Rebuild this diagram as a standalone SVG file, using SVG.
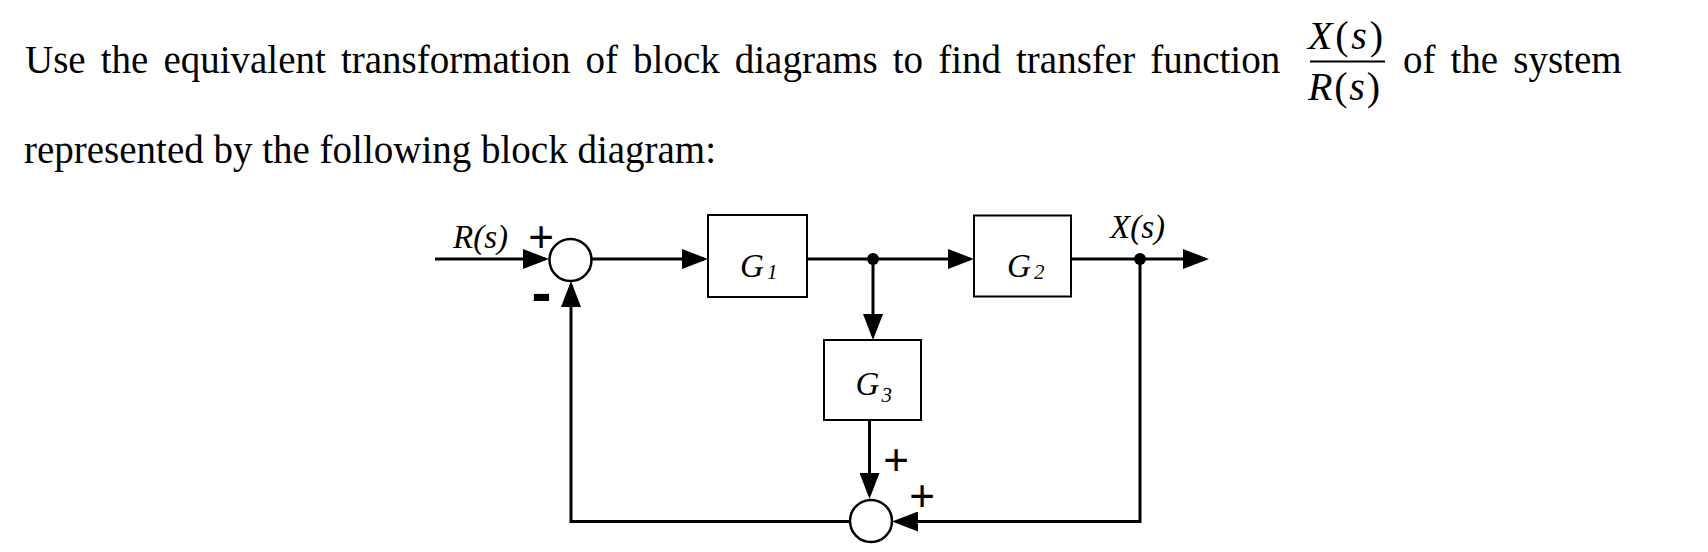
<svg xmlns="http://www.w3.org/2000/svg" width="1708" height="552" viewBox="0 0 1708 552">
<style>
.t{font-family:"Liberation Serif","Times New Roman",serif;fill:#000}
.hd{font-size:39px}
.i{font-style:italic}
.n{font-style:normal}
.blk{fill:#fff;stroke:#000;stroke-width:2}
.sum{fill:#fff;stroke:#000;stroke-width:2.5}
.ln{fill:none;stroke:#000;stroke-width:3}
.dot{fill:#000}
.lbl{font-size:33px;font-style:italic}
.sub{font-size:21px;font-style:italic}
.sgn{font-family:"Liberation Sans",Arial,sans-serif;font-size:44px;fill:#000;text-anchor:middle}
.neg{font-family:"Liberation Sans",Arial,sans-serif;font-size:60px;font-weight:bold;fill:#000;text-anchor:middle}
</style>
<defs>
<marker id="ah" markerUnits="userSpaceOnUse" markerWidth="26" markerHeight="20" viewBox="0 0 26 20" refX="22" refY="10" orient="auto">
<path d="M0,0 L26,10 L0,20 z" fill="#000"/>
</marker>
</defs>
<rect width="1708" height="552" fill="#fff"/>

<g id="question">
<text class="t hd" x="25" y="73" word-spacing="5.3">Use the equivalent transformation of block diagrams to find transfer function</text>
<text class="t" x="1308" y="49" font-size="40" textLength="75" lengthAdjust="spacing"><tspan class="i">X</tspan>(<tspan class="i">s</tspan>)</text>
<line x1="1310" y1="61.5" x2="1385" y2="61.5" stroke="#000" stroke-width="2"/>
<text class="t" x="1308" y="100" font-size="40" textLength="72" lengthAdjust="spacing"><tspan class="i">R</tspan>(<tspan class="i">s</tspan>)</text>
<text class="t hd" x="1403" y="73" word-spacing="5.3">of the system</text>
<text class="t hd" x="24" y="163">represented by the following block diagram:</text>
</g>

<g id="connectors">
<path class="ln" d="M435,259 H545" marker-end="url(#ah)"/>
<path class="ln" d="M591.5,259 H704" marker-end="url(#ah)"/>
<path class="ln" d="M807,259 H970" marker-end="url(#ah)"/>
<path class="ln" d="M873,259 V336" marker-end="url(#ah)"/>
<path class="ln" d="M1071,259 H1205" marker-end="url(#ah)"/>
<path class="ln" d="M869.5,420 V495" marker-end="url(#ah)"/>
<path class="ln" d="M1140,259 V521.5 H896" marker-end="url(#ah)"/>
<path class="ln" d="M850,521.5 H571 V285" marker-end="url(#ah)"/>
<circle class="dot" cx="873" cy="259" r="6"/>
<circle class="dot" cx="1140" cy="259" r="6"/>
</g>

<g id="sum1">
<circle class="sum" cx="570.5" cy="260" r="21"/>
<text class="sgn" x="541" y="251.5">+</text>
<text class="neg" x="541.5" y="312.5">-</text>
</g>

<g id="input-label">
<text class="t lbl" x="453" y="248">R(s)</text>
</g>

<g id="G1">
<rect class="blk" x="708" y="215" width="99" height="82"/>
<text class="t lbl" x="740" y="277">G</text>
<text class="t sub" x="767" y="279">1</text>
</g>

<g id="G2">
<rect class="blk" x="974" y="215.5" width="97" height="81"/>
<text class="t lbl" x="1007" y="277">G</text>
<text class="t sub" x="1034" y="279">2</text>
</g>

<g id="output-label">
<text class="t lbl" x="1110" y="238">X(s)</text>
</g>

<g id="G3">
<rect class="blk" x="824" y="340" width="97" height="80"/>
<text class="t lbl" x="855.5" y="395">G</text>
<text class="t sub" x="881.5" y="402">3</text>
</g>

<g id="sum2">
<circle class="sum" cx="871" cy="521" r="21"/>
<text class="sgn" x="896" y="474.5">+</text>
<text class="sgn" x="922" y="510.5">+</text>
</g>
</svg>
